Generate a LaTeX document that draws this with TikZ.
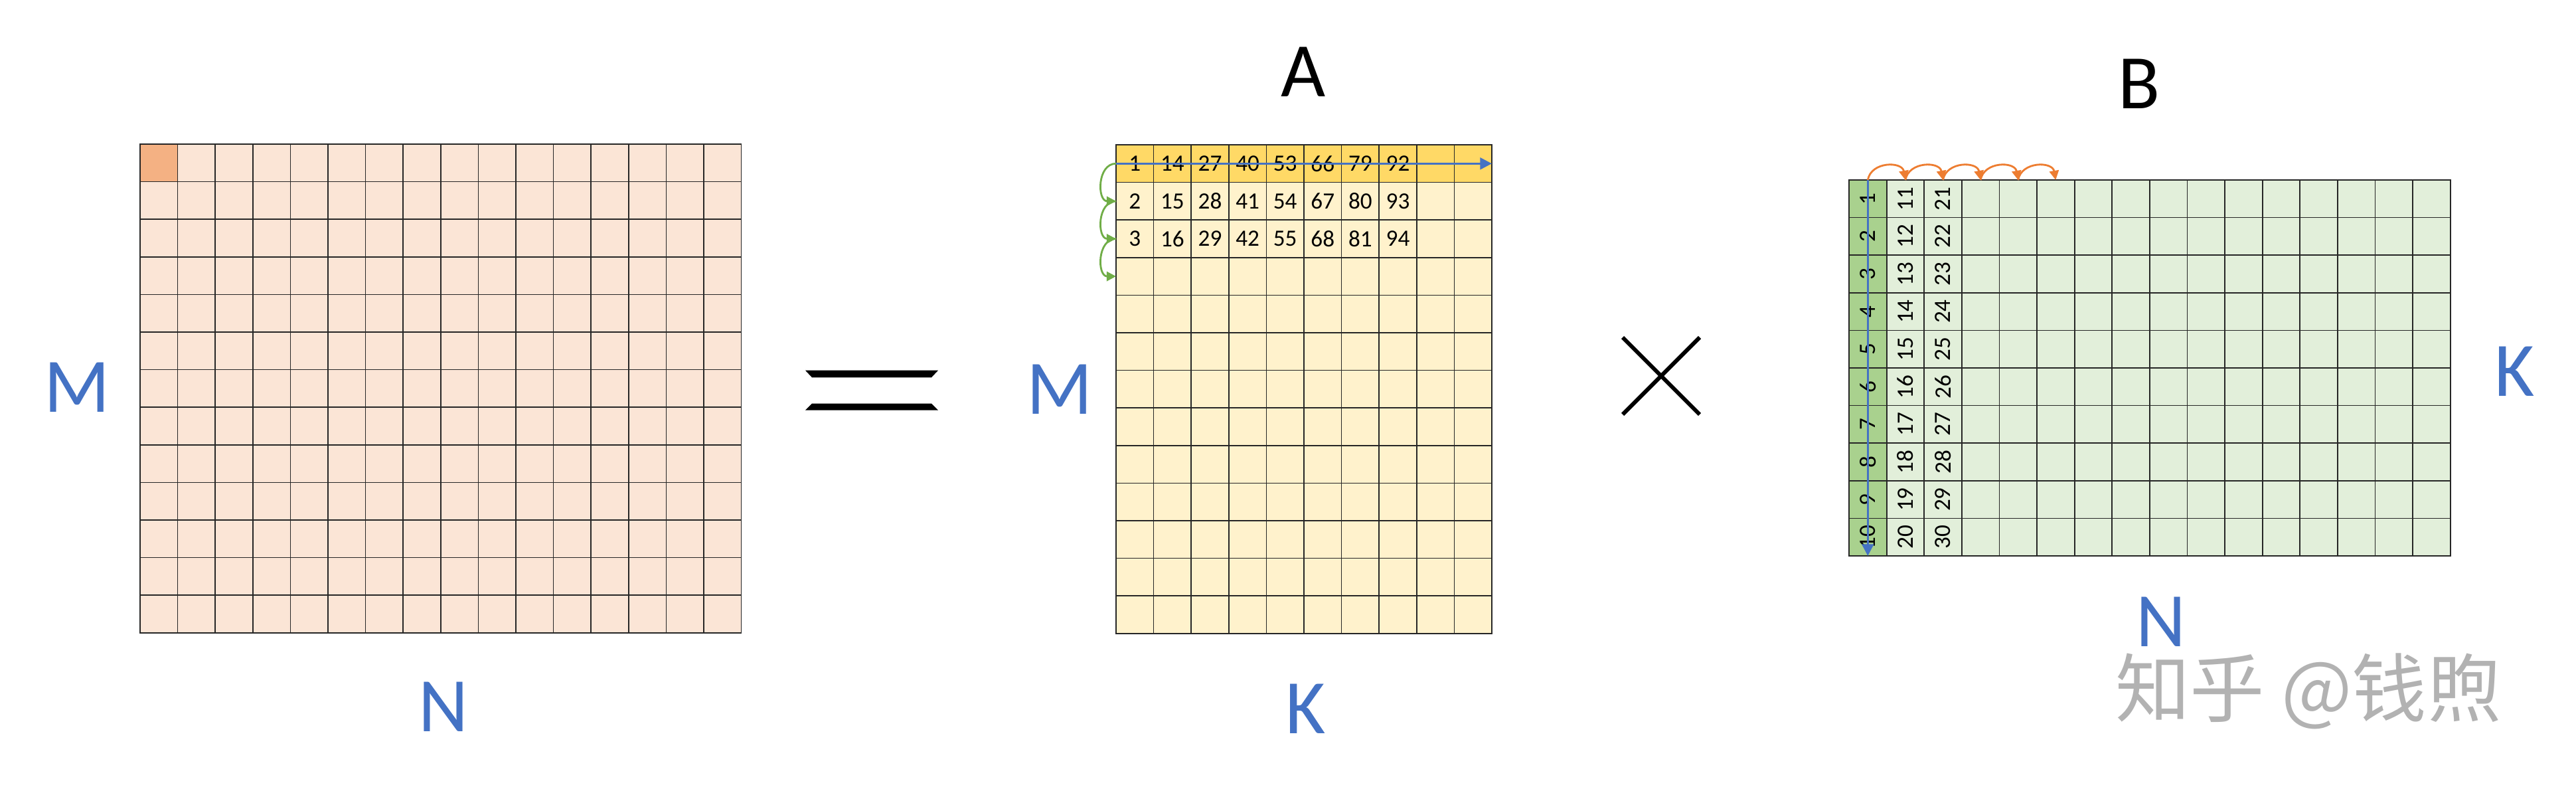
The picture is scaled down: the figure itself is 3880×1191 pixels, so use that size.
\documentclass[tikz,border=0pt]{standalone}
\usepackage{fontspec}
\setmainfont{Carlito}
\newfontfamily\cjk{Noto Sans CJK SC}
\usetikzlibrary{arrows.meta}
\definecolor{cpale}{HTML}{FBE5D6}
\definecolor{cdark}{HTML}{F4B183}
\definecolor{apale}{HTML}{FFF2CC}
\definecolor{adark}{HTML}{FFD966}
\definecolor{bpale}{HTML}{E2EFDA}
\definecolor{bdark}{HTML}{A9D18E}
\definecolor{dimblue}{HTML}{4472C4}
\definecolor{arcgreen}{HTML}{70AD47}
\definecolor{arcorange}{HTML}{ED7D31}
\begin{document}
\begin{tikzpicture}[x=0.01cm,y=-0.01cm,
  cell/.style={draw=black!85,line width=0.5pt},
  num/.style={font=\fontsize{10}{12}\selectfont,inner sep=0pt},
  dim/.style={font=\fontsize{33}{36}\selectfont,text=dimblue,inner sep=0pt},
  title/.style={font=\fontsize{33}{36}\selectfont,inner sep=0pt},
  scan/.style={dimblue,line width=0.9pt,-{Triangle[length=5pt,width=5pt]}},
  hop/.style={line width=0.8pt,-{Triangle[length=4pt,width=4pt]},looseness=1.3}]
\useasboundingbox (0,0) rectangle (3880,1191);
\foreach \c in {0,...,15}{
  \foreach \r in {0,...,12}{
    \draw[cell,fill=cpale] (211+56.6*\c,217+56.6*\r) rectangle +(56.6,56.6);
  }
}
\draw[cell,fill=cdark] (211,217) rectangle +(56.6,56.6);
\node[dim] (cm) at (116,583) {M};
\node[dim] (cn) at (668,1064) {N};
\fill (1213,557.7) -- (1413,557.7) -- (1403,568.3) -- (1223,568.3) -- cycle;
\fill (1223,607.7) -- (1403,607.7) -- (1413,617.7) -- (1213,617.7) -- cycle;
\foreach \c in {0,...,9}{
  \foreach \r in {0,...,12}{
    \draw[cell,fill=apale] (1681+56.6*\c,218+56.6*\r) rectangle +(56.6,56.6);
  }
  \draw[cell,fill=adark] (1681+56.6*\c,218) rectangle +(56.6,56.6);
}
\foreach \r in {1,2,3}{
  \foreach \c in {1,...,8}{
    \pgfmathtruncatemacro\v{\r+13*(\c-1)}
    \node[num] (a-\r-\c) at (1681+56.6*\c-28.3,218+56.6*\r-28.3) {\v};
  }
}
\foreach \r in {1,...,4}
  \coordinate (al\r) at (1681,218+56.6*\r-28.3);
\coordinate (ae) at (2247,246.3);
\draw[scan] (al1) -- (ae);
\foreach \r/\s in {1/2,2/3,3/4}
  \draw[hop,arcgreen] (al\r) to[out=180,in=180] (al\s);
\node[title] (atitle) at (1963,108) {A};
\node[dim] (am) at (1596,586) {M};
\node[dim] (ak) at (1967,1067) {K};
\draw[line width=1.7pt] (2444,508) -- (2560,624) (2560,508) -- (2444,624);
\foreach \c in {0,...,15}{
  \foreach \r in {0,...,9}{
    \draw[cell,fill=bpale] (2785+56.6*\c,271+56.6*\r) rectangle +(56.6,56.6);
  }
}
\foreach \r in {0,...,9}
  \draw[cell,fill=bdark] (2785,271+56.6*\r) rectangle +(56.6,56.6);
\foreach \c in {1,2,3}{
  \foreach \r in {1,...,10}{
    \pgfmathtruncatemacro\v{\r+10*(\c-1)}
    \node[num,rotate=90] (b-\r-\c) at (2785+56.6*\c-28.3,271+56.6*\r-28.3) {\v};
  }
}
\foreach \c in {1,...,6}
  \coordinate (bt\c) at (2785+56.6*\c-28.3,271);
\coordinate (bb) at (2813.3,837);
\draw[scan] (bt1) -- (bb);
\foreach \c/\d in {1/2,2/3,3/4,4/5,5/6}
  \draw[hop,arcorange] (bt\c) to[out=80,in=100] (bt\d);
\node[title] (btitle) at (3222,126) {B};
\node[dim] (bk) at (3788,559) {K};
\node[dim] (bn) at (3255,936) {N};
\node[font=\cjk\fontsize{32}{34}\selectfont,text=black!30,inner sep=0pt,
  text height=0.8em,text depth=0.1em] (mark) at (3477,1066) {知乎 @钱煦};
\end{tikzpicture}
\end{document}
